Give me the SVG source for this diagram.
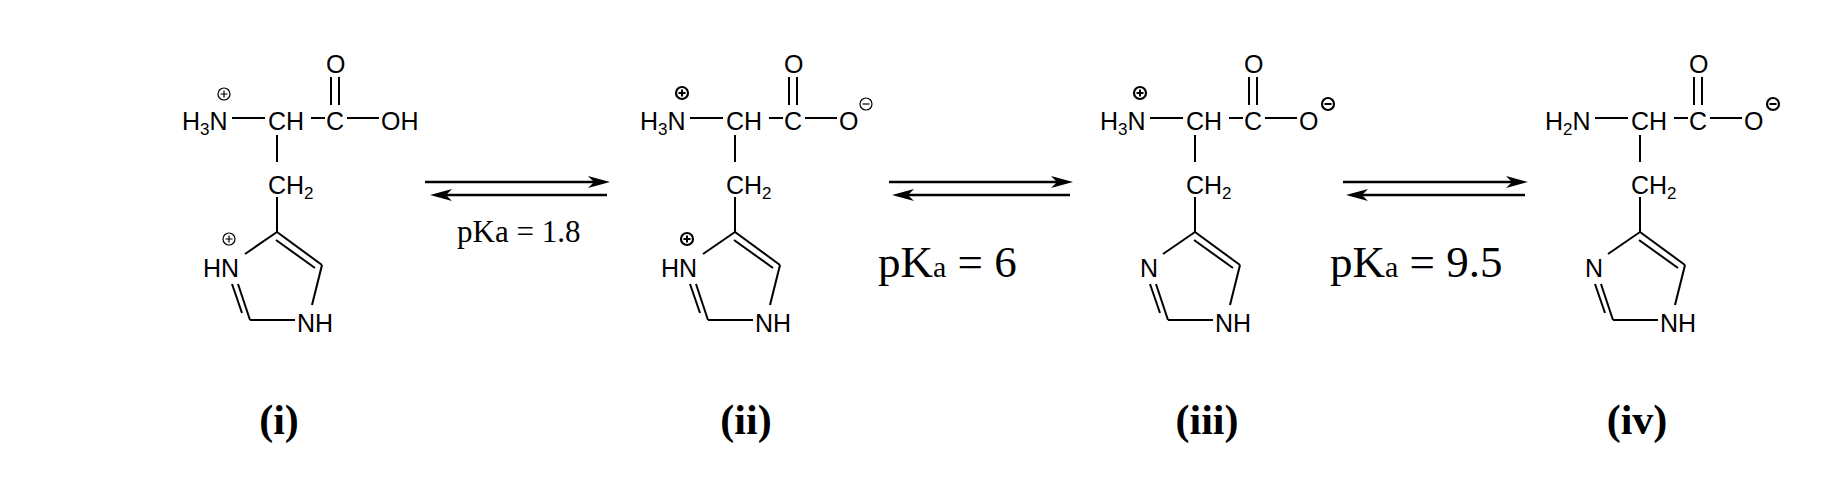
<svg xmlns="http://www.w3.org/2000/svg" width="1837" height="479" viewBox="0 0 1837 479">
<style>
.a{font-family:"Liberation Sans",Arial,sans-serif;font-size:25px;fill:#000}
.s{font-size:17px}
.b{stroke:#000;stroke-width:2;fill:none}
.c{stroke:#000;stroke-width:1.2;fill:#fff}
.cb{stroke:#000;stroke-width:2.2;fill:#fff}
.p{font-family:"Liberation Serif","Times New Roman",serif;fill:#000}
.l{font-family:"Liberation Serif","Times New Roman",serif;font-weight:bold;font-size:42px;text-anchor:middle}
</style>
<defs>
<g id="core">
<line class="b" x1="232" y1="118" x2="265" y2="118"/>
<line class="b" x1="311" y1="118" x2="325" y2="118"/>
<line class="b" x1="347" y1="118" x2="379" y2="118"/>
<line class="b" x1="331" y1="77" x2="331" y2="105"/>
<line class="b" x1="339" y1="77" x2="339" y2="105"/>
<line class="b" x1="277" y1="135" x2="277" y2="162"/>
<line class="b" x1="277" y1="197" x2="277" y2="232"/>
<line class="b" x1="277" y1="232" x2="322" y2="265"/>
<line class="b" x1="276" y1="240" x2="315" y2="268"/>
<line class="b" x1="322" y1="265" x2="312" y2="305"/>
<line class="b" x1="295" y1="320" x2="250" y2="320"/>
<line class="b" x1="250" y1="320" x2="238" y2="284"/>
<line class="b" x1="242" y1="313" x2="232" y2="284"/>
<line class="b" x1="277" y1="232" x2="245" y2="254"/>
<text class="a" x="268" y="130">CH</text>
<text class="a" x="326" y="130">C</text>
<text class="a" x="326" y="73">O</text>
<text class="a" x="268" y="194">CH<tspan class="s" dy="5">2</tspan></text>
<text class="a" x="297" y="332">NH</text>
</g>
<g id="plus"><circle class="c" cx="0" cy="0" r="6"/><path class="b" style="stroke-width:1.2" d="M-3.5 0H3.5M0 -3.5V3.5"/></g>
<g id="plusb"><circle class="cb" cx="0" cy="0" r="6"/><path class="b" d="M-3.5 0H3.5M0 -3.5V3.5"/></g>
<g id="minus"><circle class="c" cx="0" cy="0" r="6"/><path class="b" style="stroke-width:1.2" d="M-3.5 0H3.5"/></g>
<g id="minusb"><circle class="cb" cx="0" cy="0" r="6"/><path class="b" d="M-3.5 0H3.5"/></g>
<path id="hd" d="M0 0L-22 -6L-16 0L-22 6Z" fill="#000"/>
</defs>

<g id="i">
<use href="#core"/>
<text class="a" x="182" y="130">H<tspan class="s" dy="5">3</tspan><tspan dy="-5">N</tspan></text>
<text class="a" x="381" y="130">OH</text>
<text class="a" x="203" y="277">HN</text>
<use href="#plus" x="224" y="94"/>
<use href="#plus" x="229" y="239"/>
</g>

<g id="ii" transform="translate(458,0)">
<use href="#core"/>
<text class="a" x="182" y="130">H<tspan class="s" dy="5">3</tspan><tspan dy="-5">N</tspan></text>
<text class="a" x="381" y="130">O</text>
<use href="#minus" x="408" y="104"/>
<text class="a" x="203" y="277">HN</text>
<use href="#plusb" x="224" y="93"/>
<use href="#plusb" x="229" y="239"/>
</g>

<g id="iii" transform="translate(918,0)">
<use href="#core"/>
<text class="a" x="182" y="130">H<tspan class="s" dy="5">3</tspan><tspan dy="-5">N</tspan></text>
<text class="a" x="381" y="130">O</text>
<use href="#minusb" x="410" y="104"/>
<text class="a" x="222" y="277">N</text>
<use href="#plusb" x="222" y="93"/>
</g>

<g id="iv" transform="translate(1363,0)">
<use href="#core"/>
<text class="a" x="182" y="130">H<tspan class="s" dy="5">2</tspan><tspan dy="-5">N</tspan></text>
<text class="a" x="381" y="130">O</text>
<use href="#minusb" x="410" y="104"/>
<text class="a" x="222" y="277">N</text>
</g>

<g id="connectors">
<line class="b" x1="425" y1="182" x2="600" y2="182" style="stroke-width:2.5"/>
<use href="#hd" x="610" y="182"/>
<line class="b" x1="440" y1="195" x2="607" y2="195" style="stroke-width:2.5"/>
<use href="#hd" transform="translate(430,195) rotate(180)"/>
<line class="b" x1="889" y1="182" x2="1063" y2="182" style="stroke-width:2.5"/>
<use href="#hd" x="1073" y="182"/>
<line class="b" x1="902" y1="195" x2="1070" y2="195" style="stroke-width:2.5"/>
<use href="#hd" transform="translate(892,195) rotate(180)"/>
<line class="b" x1="1343" y1="182" x2="1518" y2="182" style="stroke-width:2.5"/>
<use href="#hd" x="1528" y="182"/>
<line class="b" x1="1356" y1="195" x2="1525" y2="195" style="stroke-width:2.5"/>
<use href="#hd" transform="translate(1346,195) rotate(180)"/>
</g>

<text class="p" x="457" y="242" font-size="31">pKa = 1.8</text>
<text class="p" x="878" y="277" font-size="45">pK<tspan font-size="30">a</tspan> = 6</text>
<text class="p" x="1330" y="277" font-size="45">pK<tspan font-size="30">a</tspan> = 9.5</text>

<text class="l" x="279" y="434">(i)</text>
<text class="l" x="746" y="434">(ii)</text>
<text class="l" x="1207" y="434">(iii)</text>
<text class="l" x="1637" y="434">(iv)</text>
</svg>
